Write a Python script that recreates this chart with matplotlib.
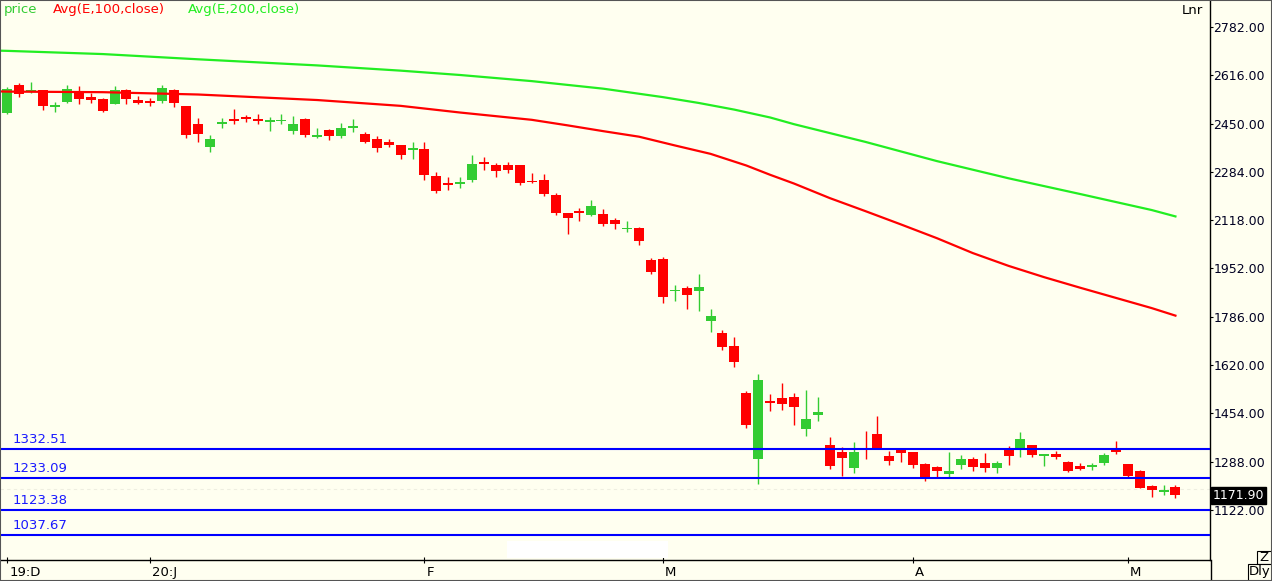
import matplotlib.pyplot as plt
from matplotlib.patches import Rectangle
from matplotlib.lines import Line2D
import matplotlib.transforms as mtrans
import numpy as np

# daily OHLC, 13 Dec 2019 .. 8 May 2020 (trading days)
opens = [2487, 2583, 2561, 2566, 2510, 2524, 2558, 2541, 2534, 2518,
         2566, 2530, 2525, 2529, 2566, 2510, 2449, 2371, 2450, 2466,
         2469, 2466, 2459, 2461, 2426, 2466, 2407, 2428, 2408, 2438,
         2414, 2397, 2388, 2376, 2361, 2363, 2270, 2243, 2243, 2256,
         2315, 2308, 2308, 2308, 2252, 2256, 2205, 2143, 2147, 2136,
         2139, 2119, 2089, 2091, 1981, 1985, 1876, 1885, 1875, 1772,
         1730, 1686, 1524, 1297, 1493, 1507, 1510, 1400, 1448, 1345,
         1321, 1266, 1334, 1383, 1308, 1328, 1321, 1280, 1270, 1247,
         1277, 1297, 1283, 1266, 1328, 1332, 1345, 1310, 1314, 1287,
         1273, 1270, 1283, 1325, 1280, 1256, 1204, 1186, 1201]
highs = [2577, 2591, 2593, 2567, 2523, 2583, 2579, 2554, 2537, 2579,
         2569, 2544, 2538, 2583, 2568, 2512, 2469, 2411, 2469, 2500,
         2480, 2483, 2474, 2483, 2476, 2469, 2435, 2431, 2452, 2466,
         2421, 2407, 2397, 2378, 2387, 2387, 2284, 2266, 2266, 2342,
         2335, 2315, 2318, 2309, 2280, 2277, 2211, 2144, 2160, 2187,
         2156, 2125, 2115, 2095, 1988, 1992, 1895, 1892, 1933, 1813,
         1741, 1716, 1531, 1589, 1521, 1558, 1524, 1534, 1510, 1373,
         1338, 1356, 1393, 1445, 1325, 1335, 1323, 1283, 1273, 1321,
         1311, 1304, 1318, 1290, 1342, 1390, 1347, 1314, 1325, 1290,
         1283, 1283, 1318, 1359, 1281, 1259, 1208, 1208, 1208]
lows = [2484, 2542, 2556, 2497, 2491, 2522, 2518, 2522, 2491, 2516,
        2518, 2518, 2511, 2522, 2508, 2401, 2388, 2353, 2436, 2450,
        2456, 2450, 2426, 2450, 2415, 2405, 2401, 2395, 2401, 2422,
        2384, 2352, 2371, 2329, 2329, 2256, 2211, 2222, 2230, 2249,
        2290, 2266, 2280, 2239, 2245, 2202, 2136, 2072, 2116, 2132,
        2099, 2089, 2078, 2034, 1933, 1833, 1840, 1813, 1806, 1734,
        1672, 1613, 1404, 1211, 1462, 1466, 1414, 1376, 1428, 1263,
        1239, 1249, 1297, 1332, 1277, 1287, 1266, 1222, 1232, 1232,
        1263, 1256, 1252, 1249, 1277, 1304, 1304, 1273, 1297, 1252,
        1259, 1259, 1277, 1314, 1235, 1196, 1167, 1173, 1163]
closes = [2569, 2552, 2566, 2511, 2511, 2569, 2535, 2532, 2494, 2566,
          2536, 2522, 2524, 2572, 2522, 2412, 2415, 2397, 2456, 2460,
          2468, 2460, 2460, 2462, 2449, 2412, 2408, 2408, 2435, 2439,
          2388, 2367, 2378, 2343, 2363, 2273, 2218, 2242, 2250, 2311,
          2314, 2287, 2290, 2246, 2251, 2209, 2143, 2126, 2146, 2167,
          2106, 2106, 2090, 2048, 1940, 1854, 1877, 1861, 1888, 1789,
          1682, 1631, 1414, 1569, 1492, 1486, 1476, 1435, 1459, 1273,
          1302, 1321, 1333, 1335, 1290, 1318, 1277, 1228, 1256, 1256,
          1297, 1270, 1266, 1283, 1308, 1366, 1311, 1311, 1304, 1256,
          1263, 1277, 1311, 1323, 1239, 1198, 1191, 1187, 1171.90]

# moving averages read at some sessions (index into the candles)
ema100_idx = [-1, 0, 8, 16, 26, 33, 38, 44, 47, 50, 53, 56, 59, 62, 64, 66, 69, 72,
              75, 78, 81, 84, 87, 90, 93, 96, 98]
ema100 = [2561, 2560, 2558, 2550, 2531, 2511, 2488, 2463, 2444, 2424, 2405, 2375,
          2346, 2306, 2274, 2244, 2194, 2149, 2103, 2056, 2005, 1961, 1922, 1886,
          1851, 1816, 1790]
ema200_idx = [-1, 0, 8, 16, 26, 33, 38, 44, 50, 55, 58, 61, 64, 66, 72, 78, 84, 90, 96, 98]
ema200 = [2701, 2700, 2689, 2671, 2650, 2632, 2617, 2596, 2570, 2541, 2521, 2498,
          2471, 2448, 2387, 2321, 2262, 2208, 2153, 2131]

levels = [1332.51, 1233.09, 1123.38, 1037.67]
last_close = 1171.90
prev_close = 1193.70

month_pos = [0, 12, 35, 55, 76, 94]
month_labels = ['19:D', '20:J', 'F', 'M', 'A', 'M']
price_ticks = [2782, 2616, 2450, 2284, 2118, 1952, 1786, 1620, 1454, 1288, 1122]

W, H = 1272, 581
bg = '#fffff0'
up_col = '#33cc33'
dn_col = '#ff0000'
ma200_col = '#22ee22'

plt.rcParams['font.family'] = 'DejaVu Sans'
fig = plt.figure(figsize=(W / 100, H / 100), dpi=100, facecolor=bg)
ax = fig.add_axes([0, 21 / H, 1210 / W, 560 / H], facecolor=bg)

o = np.array(opens, float)
h = np.array(highs, float)
l = np.array(lows, float)
c = np.array(closes, float)
x = np.arange(len(c))
cols = np.where(c >= o, up_col, dn_col)

# candles
ax.vlines(x, l, h, colors=cols, lw=1.0, zorder=2)
body_h = np.maximum(np.abs(c - o), 5)
ax.bar(x, body_h, 0.84, bottom=(o + c) / 2 - body_h / 2, color=cols, lw=0, zorder=2)

# averages
ax.plot(ema200_idx, ema200, color=ma200_col, lw=1.6, zorder=3)
ax.plot(ema100_idx, ema100, color=dn_col, lw=1.6, zorder=3)

# faint previous close line
ax.axhline(prev_close, color='#eeeee0', lw=0.8, ls=(0, (3, 3)), zorder=1)

# horizontal levels
for lv in levels:
    ax.axhline(lv, color='#0000ff', lw=1.5, zorder=4)
    ax.annotate(f'{lv:.2f}', xy=(0, lv), xycoords=('axes fraction', 'data'),
                xytext=(13, 9), textcoords='offset pixels', color='#1a1aff',
                fontsize=9.5, va='center', ha='left')

ax.set_xlim(-0.61, 100.9)
ax.set_ylim(950.1, 2874.8)

ax.yaxis.tick_right()
ax.set_yticks(price_ticks)
ax.set_yticklabels([f'{t:.2f}' for t in price_ticks])
ax.tick_params(axis='y', direction='out', length=2.5, width=0.8, pad=0,
               labelsize=9, labelcolor='#000022')
ax.set_xticks(month_pos)
ax.set_xticklabels(month_labels)
ax.tick_params(axis='x', direction='inout', length=5, width=0.8, pad=2, labelsize=9.5)
shift = mtrans.ScaledTranslation(2 / 100, 0, fig.dpi_scale_trans)
for lab in ax.get_xticklabels():
    lab.set_ha('left')
    lab.set_transform(lab.get_transform() + shift)

for s in ['top', 'left']:
    ax.spines[s].set_visible(False)
ax.spines['right'].set_linewidth(1.0)
ax.spines['bottom'].set_linewidth(1.0)

# current price tag
ax.annotate(f'{last_close:.2f}', xy=(1, last_close), xycoords=('axes fraction', 'data'),
            xytext=(3, 0), textcoords='offset pixels', color='white', fontsize=9,
            va='center', ha='left',
            bbox=dict(boxstyle='square,pad=0.15', fc='black', ec='black'))

# header texts
fig.text(4 / W, 1 - 10 / H, 'price', color=up_col, fontsize=9.6, va='center')
fig.text(53 / W, 1 - 10 / H, 'Avg(E,100,close)', color=dn_col, fontsize=9.6, va='center')
fig.text(188 / W, 1 - 10 / H, 'Avg(E,200,close)', color=ma200_col, fontsize=9.6, va='center')
fig.text(1182 / W, 1 - 11 / H, 'Lnr', color='black', fontsize=9.5, va='center')

# small boxes bottom right
fig.patches.append(Rectangle((1257 / W, 1 - 564 / H), 15 / W, 13 / H, transform=fig.transFigure,
                             fc=bg, ec='black', lw=0.8))
fig.text(1264 / W, 1 - 557.5 / H, 'Z', fontsize=9.5, ha='center', va='center')
fig.patches.append(Rectangle((1248 / W, 0), 24 / W, 17 / H, transform=fig.transFigure,
                             fc=bg, ec='black', lw=0.8))
fig.text(1260 / W, 1 - 572 / H, 'Dly', fontsize=9.5, ha='center', va='center')

# blank box over the chart bottom
fig.patches.append(Rectangle((507 / W, 1 - 558 / H), 161 / W, 17 / H, transform=fig.transFigure,
                             fc='white', ec='none', zorder=2))

# right axis continues down, frame of the window
fig.lines.append(Line2D([1210.5 / W, 1210.5 / W], [0, 21 / H], transform=fig.transFigure,
                        color='black', lw=1.0))
fig.patches.append(Rectangle((0, 0), 1, 1, transform=fig.transFigure, fill=False,
                             ec='#555555', lw=1.5, zorder=5))

fig.savefig('out.png', dpi=100, facecolor=bg)
